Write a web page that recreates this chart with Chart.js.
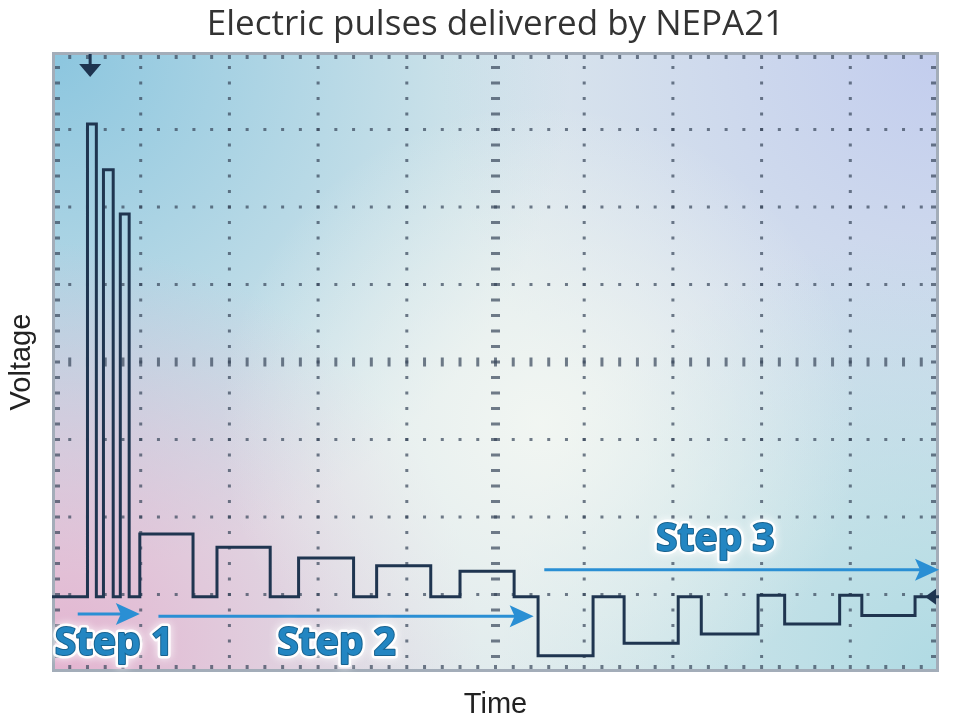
<!DOCTYPE html>
<html>
<head>
<meta charset="utf-8">
<script src="https://cdn.jsdelivr.net/npm/chart.js@4.4.1/dist/chart.umd.min.js"></script>
<style>
  html, body { margin: 0; padding: 0; background: #fff; }
  #wrap { width: 960px; height: 720px; }
</style>
</head>
<body>
<div id="wrap"><canvas id="scope"></canvas></div>
<script>
// time (divisions) at which the trace changes level, and the level it takes (divisions)
var edgeTimes = [0, 0.40, 0.50, 0.58, 0.69, 0.77, 0.87, 0.99, 1.59, 1.86, 2.46, 2.78, 3.40, 3.66,
                 4.27, 4.60, 5.21, 5.48, 6.10, 6.45, 7.06, 7.32, 7.96, 8.26, 8.88, 9.13, 9.73, 10];
var levels = [0.97, 7.07, 0.97, 6.48, 0.97, 5.91, 0.97, 1.78, 0.97, 1.61, 0.97, 1.47, 0.97, 1.37,
              0.97, 1.30, 0.97, 0.21, 0.97, 0.37, 0.97, 0.49, 0.99, 0.62, 0.99, 0.73, 0.97, 0.97];

// step annotations: arrow start, arrow end, arrow level, label x, label y
var stepNames = ['Step 1', 'Step 2', 'Step 3'];
var arrowFrom = [0.29, 1.20, 5.55];
var arrowTo = [0.99, 5.43, 10.0];
var arrowLevel = [0.75, 0.72, 1.32];
var labelX = [0.03, 2.54, 6.81];
var labelY = [0.36, 0.36, 1.70];

var triggerTime = 0.43;
var groundLevel = 0.97;

var tracePoints = edgeTimes.map(function(t, i) { return {x: t, y: levels[i]}; });

var screenBackground = {
    id: 'screenBackground',
    beforeDraw: function(chart) {
        var ctx = chart.ctx, a = chart.chartArea;
        var w = a.right - a.left, h = a.bottom - a.top;
        ctx.save();
        ctx.fillStyle = '#dde9ec';
        ctx.fillRect(a.left, a.top, w, h);
        function blob(x, y, r, color) {
            var g = ctx.createRadialGradient(x, y, 0, x, y, r);
            g.addColorStop(0, color);
            g.addColorStop(1, color.replace(/[\d.]+\)$/, '0)'));
            ctx.fillStyle = g;
            ctx.fillRect(a.left, a.top, w, h);
        }
        blob(a.left, a.top, 520, 'rgba(135,196,222,0.95)');
        blob(a.right, a.top, 500, 'rgba(190,200,238,0.85)');
        blob(a.left, a.bottom, 430, 'rgba(228,176,206,0.95)');
        blob(a.right, a.bottom, 440, 'rgba(168,216,226,0.85)');
        blob(a.left + w * 0.55, a.top + h * 0.6, 320, 'rgba(245,248,243,0.85)');
        ctx.restore();
    }
};

var screenGrid = {
    id: 'screenGrid',
    beforeDatasetsDraw: function(chart) {
        var ctx = chart.ctx, a = chart.chartArea;
        var xs = chart.scales.x, ys = chart.scales.y;
        var i, k, px, py;
        ctx.save();
        ctx.fillStyle = 'rgba(55,70,90,0.7)';
        // dotted divisions
        for (i = 1; i < 10; i++) {
            if (i === 5) continue;
            px = xs.getPixelForValue(i);
            for (k = 1; k < 40; k++) {
                py = ys.getPixelForValue(k * 0.2);
                ctx.fillRect(px - 1.5, py - 1.5, 3, 3);
            }
        }
        for (i = 1; i < 8; i++) {
            if (i === 4) continue;
            py = ys.getPixelForValue(i);
            for (k = 1; k < 50; k++) {
                px = xs.getPixelForValue(k * 0.2);
                ctx.fillRect(px - 1.5, py - 1.5, 3, 3);
            }
        }
        // centre axes with tick marks
        px = xs.getPixelForValue(5);
        for (k = 1; k < 40; k++) {
            py = ys.getPixelForValue(k * 0.2);
            ctx.fillRect(px - 4.5, py - 1.5, 9, 3);
        }
        py = ys.getPixelForValue(4);
        for (k = 1; k < 50; k++) {
            px = xs.getPixelForValue(k * 0.2);
            ctx.fillRect(px - 1.5, py - 4.5, 3, 9);
        }
        // frame ticks
        for (k = 1; k < 40; k++) {
            py = ys.getPixelForValue(k * 0.2);
            ctx.fillRect(a.left + 2, py - 1.5, 6, 3);
            ctx.fillRect(a.right - 8, py - 1.5, 6, 3);
        }
        for (k = 1; k < 50; k++) {
            px = xs.getPixelForValue(k * 0.2);
            ctx.fillRect(px - 1.5, a.top + 2, 3, 5);
            ctx.fillRect(px - 1.5, a.bottom - 7, 3, 5);
        }
        // frame
        ctx.strokeStyle = '#a3adb9';
        ctx.lineWidth = 3;
        ctx.strokeRect(a.left + 1.5, a.top + 1.5, a.right - a.left - 3, a.bottom - a.top - 3);
        // trigger marker
        ctx.fillStyle = '#1e3450';
        px = xs.getPixelForValue(triggerTime);
        ctx.fillRect(px - 1.5, a.top + 2, 3, 12);
        ctx.beginPath();
        ctx.moveTo(px - 11, a.top + 12);
        ctx.lineTo(px + 11, a.top + 12);
        ctx.lineTo(px, a.top + 25);
        ctx.closePath();
        ctx.fill();
        // ground marker
        py = ys.getPixelForValue(groundLevel);
        ctx.beginPath();
        ctx.moveTo(a.right - 14, py);
        ctx.lineTo(a.right - 3, py - 8);
        ctx.lineTo(a.right - 3, py + 8);
        ctx.closePath();
        ctx.fill();
        ctx.restore();
    }
};

var stepNotes = {
    id: 'stepNotes',
    afterDatasetsDraw: function(chart) {
        var ctx = chart.ctx;
        var xs = chart.scales.x, ys = chart.scales.y;
        ctx.save();
        stepNames.forEach(function(name, i) {
            var x0 = xs.getPixelForValue(arrowFrom[i]);
            var x1 = xs.getPixelForValue(arrowTo[i]);
            var y = ys.getPixelForValue(arrowLevel[i]);
            ctx.strokeStyle = '#2a8fd4';
            ctx.fillStyle = '#2a8fd4';
            ctx.lineWidth = 3;
            ctx.beginPath();
            ctx.moveTo(x0, y);
            ctx.lineTo(x1 - 16, y);
            ctx.stroke();
            ctx.beginPath();
            ctx.moveTo(x1, y);
            ctx.lineTo(x1 - 24, y - 11);
            ctx.lineTo(x1 - 19, y);
            ctx.lineTo(x1 - 24, y + 11);
            ctx.closePath();
            ctx.fill();

            var lx = xs.getPixelForValue(labelX[i]);
            var ly = ys.getPixelForValue(labelY[i]);
            ctx.font = 'bold 39px "Open Sans"';
            ctx.textAlign = 'left';
            ctx.textBaseline = 'middle';
            ctx.lineJoin = 'round';
            ctx.shadowColor = 'rgba(255,255,255,0.95)';
            ctx.shadowBlur = 8;
            ctx.strokeStyle = 'rgba(255,255,255,0.9)';
            ctx.lineWidth = 7;
            ctx.strokeText(name, lx, ly);
            ctx.shadowBlur = 0;
            ctx.strokeStyle = '#17628f';
            ctx.lineWidth = 2;
            ctx.strokeText(name, lx, ly);
            ctx.fillStyle = '#2386c2';
            ctx.fillText(name, lx, ly);
        });
        ctx.restore();
    }
};

var chart = new Chart(document.getElementById('scope'), {
    type: 'line',
    data: {
        datasets: [{
            label: 'Voltage',
            data: tracePoints,
            stepped: 'before',
            borderColor: '#1f3550',
            borderWidth: 3,
            pointRadius: 0,
            fill: false
        }]
    },
    options: {
        responsive: true,
        maintainAspectRatio: false,
        animation: false,
        layout: { padding: { left: 7, right: 21, top: 0, bottom: 0 } },
        plugins: {
            legend: { display: false },
            tooltip: { enabled: false },
            title: {
                display: true,
                fullSize: false,
                text: 'Electric pulses delivered by NEPA21',
                color: '#333333',
                font: { family: '"Open Sans"', size: 35, weight: 'normal', lineHeight: 1 },
                padding: { top: 8, bottom: 9 }
            }
        },
        scales: {
            x: {
                type: 'linear',
                min: 0,
                max: 10,
                ticks: { display: false },
                grid: { display: false, drawTicks: false, tickLength: 0 },
                border: { display: false },
                title: {
                    display: true,
                    text: 'Time',
                    color: '#222222',
                    font: { family: 'Arial, "Liberation Sans", sans-serif', size: 29, lineHeight: 1 },
                    padding: { top: 18, bottom: 1 }
                }
            },
            y: {
                type: 'linear',
                min: 0,
                max: 8,
                ticks: { display: false },
                grid: { display: false, drawTicks: false, tickLength: 0 },
                border: { display: false },
                title: {
                    display: true,
                    text: 'Voltage',
                    color: '#222222',
                    font: { family: 'Arial, "Liberation Sans", sans-serif', size: 29, lineHeight: 1 },
                    padding: { top: 0, bottom: 16 }
                }
            }
        }
    },
    plugins: [screenBackground, screenGrid, stepNotes]
});
</script>
</body>
</html>
